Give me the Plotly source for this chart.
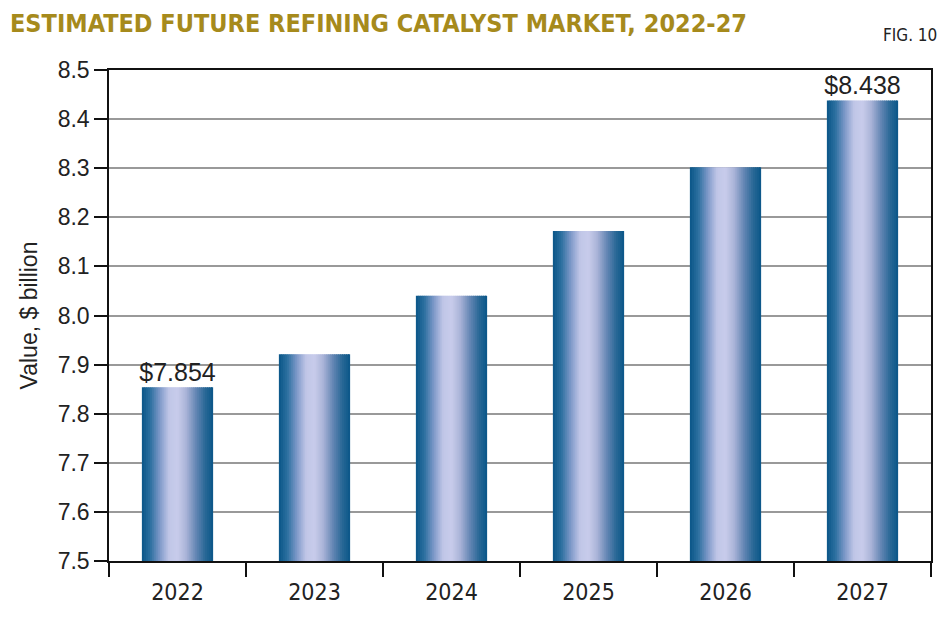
import plotly.graph_objects as go

years = ["2022", "2023", "2024", "2025", "2026", "2027"]
values = [7.854, 7.921, 8.040, 8.172, 8.302, 8.438]
labels = ["$7.854", "", "", "", "", "$8.438"]
y_ticks = [7.5, 7.6, 7.7, 7.8, 7.9, 8.0, 8.1, 8.2, 8.3, 8.4, 8.5]

# horizontal gradient stops (position, rgb)
stops = [
    (0.00, (10, 86, 136)),
    (0.12, (45, 112, 160)),
    (0.25, (125, 152, 200)),
    (0.38, (192, 198, 231)),
    (0.50, (200, 204, 235)),
    (0.62, (170, 180, 216)),
    (0.76, (100, 134, 180)),
    (0.89, (40, 104, 150)),
    (1.00, (10, 86, 136)),
]


def grad(t):
    for (p0, c0), (p1, c1) in zip(stops[:-1], stops[1:]):
        if p0 <= t <= p1:
            f = (t - p0) / (p1 - p0) if p1 > p0 else 0
            c = [round(a + (b - a) * f) for a, b in zip(c0, c1)]
            return f"rgb({c[0]},{c[1]},{c[2]})"
    return "rgb(10,86,136)"


BAR_W = 0.52
N = 36
step = BAR_W / N
COND = "DejaVu Sans Condensed, Liberation Sans Narrow, sans-serif"

fig = go.Figure()
for i in range(N):
    off = -BAR_W / 2 + i * step
    w = step * 1.4 if i < N - 1 else step
    fig.add_trace(go.Bar(
        x=years, y=values, offset=off, width=w,
        marker=dict(color=grad((i + 0.5) / N), line=dict(width=0)),
        hoverinfo="skip", showlegend=False,
    ))

fig.add_trace(go.Scatter(
    x=years, y=values, mode="text", text=labels,
    textposition="top center",
    textfont=dict(family="Liberation Sans", size=25, color="#222"),
    cliponaxis=False, showlegend=False, hoverinfo="skip",
))

fig.update_layout(
    width=950, height=620,
    barmode="overlay",
    plot_bgcolor="white", paper_bgcolor="white",
    margin=dict(l=109, r=19, t=70, b=59),
    title=dict(
        text="ESTIMATED FUTURE REFINING CATALYST MARKET, 2022-27",
        font=dict(family=COND, size=25, color="#a68a1c", weight="bold"),
        xref="container", x=10 / 950, xanchor="left",
        yref="container", y=1 - 23 / 620, yanchor="middle",
    ),
    annotations=[dict(
        text="FIG. 10", xref="paper", yref="paper",
        x=0.975, y=1.071, xanchor="center", yanchor="middle", showarrow=False,
        font=dict(family=COND, size=17, color="#222"),
    )],
    xaxis=dict(
        type="category",
        tickson="boundaries", ticks="outside", ticklen=14, tickcolor="#111", tickwidth=1.5,
        showline=True, linecolor="#111", linewidth=1.5, mirror=True,
        showgrid=False, ticklabelstandoff=10,
        tickfont=dict(family=COND, size=23, color="#222"),
    ),
    yaxis=dict(
        range=[7.5, 8.5], tickvals=y_ticks, ticktext=[f"{v:.1f}" for v in y_ticks],
        ticks="outside", ticklen=13, tickcolor="#111", tickwidth=1.5,
        showline=True, linecolor="#111", linewidth=1.5, mirror=True,
        showgrid=True, gridcolor="#999", gridwidth=1.5,
        zeroline=False,
        tickfont=dict(family="Liberation Sans", size=23, color="#222"),
        title=dict(text="Value, $ billion", standoff=14,
                   font=dict(family="Liberation Sans", size=23, color="#222")),
    ),
)

fig.write_html("out.html")
